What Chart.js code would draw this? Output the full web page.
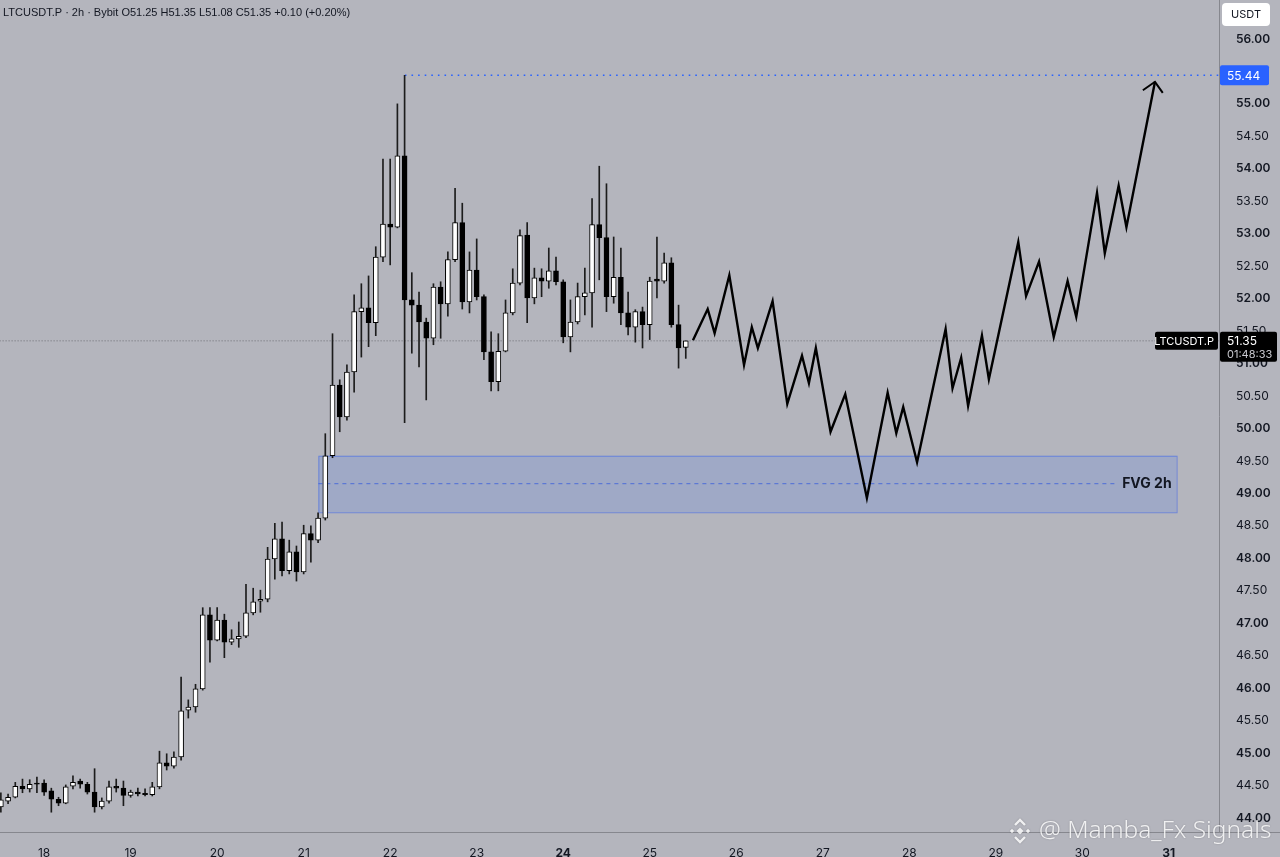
<!DOCTYPE html>
<html>
<head>
<meta charset="utf-8">
<title>LTCUSDT.P 2h</title>
<script src="https://cdn.jsdelivr.net/npm/chart.js@4.4.1/dist/chart.umd.min.js"></script>
<style>
  html, body { margin: 0; padding: 0; background: #b4b5bd; }
  #wrap { width: 1280px; height: 857px; position: relative; }
</style>
</head>
<body>
<div id="wrap"><canvas id="chart"></canvas></div>
<script>
// 2h candles, first one at 17.5 (day of month as a number)
const firstCandle = 17.5;
const stepDays = 2 / 24;

const opens = [44.17, 44.26, 44.32, 44.49, 44.45, 44.54, 44.54, 44.42, 44.29, 44.23, 44.49, 44.57, 44.52, 44.40, 44.17, 44.26, 44.49, 44.46, 44.35, 44.40, 44.38, 44.36, 44.48, 44.85, 44.80,
  44.94, 45.66, 45.71, 45.99, 47.13, 46.74, 47.05, 46.71, 46.76, 46.80, 47.16, 47.34, 47.37, 47.99, 48.30, 47.81, 48.10, 47.79, 48.38, 48.28, 48.62,
  49.58, 50.67, 50.18, 50.87, 51.80, 51.86, 51.63, 52.64, 53.15, 53.10, 54.20, 51.98, 51.90, 51.64, 51.39, 52.18, 51.92, 52.60, 53.17, 51.95, 52.44, 52.03, 51.18, 50.72,
  51.19, 51.78, 52.24, 52.98, 52.01, 52.32, 52.27, 52.43, 52.26, 51.41, 51.64, 52.03, 52.09, 53.14, 52.94, 52.03, 52.33, 51.78, 51.56, 51.80, 51.60, 52.30, 52.27, 52.55, 51.60, 51.25];
const highs = [44.39, 44.37, 44.55, 44.60, 44.59, 44.63, 44.59, 44.46, 44.32, 44.51, 44.65, 44.60, 44.55, 44.76, 44.31, 44.57, 44.60, 44.57, 44.43, 44.46, 44.45, 44.55, 45.03, 44.99, 45.02,
  46.17, 45.82, 46.06, 47.24, 47.24, 47.24, 47.14, 46.90, 47.02, 47.60, 47.54, 47.51, 48.17, 48.54, 48.56, 48.28, 48.19, 48.51, 48.50, 48.70, 49.92,
  51.46, 50.75, 50.98, 52.06, 52.23, 52.35, 52.80, 54.15, 54.15, 55.00, 55.44, 52.40, 52.10, 51.70, 52.23, 52.26, 52.72, 53.70, 53.47, 52.72, 52.92, 52.06, 51.49, 51.46,
  51.98, 52.46, 53.06, 53.17, 52.47, 52.46, 52.78, 52.64, 52.29, 51.98, 52.24, 52.47, 53.54, 54.04, 53.77, 52.95, 52.78, 52.10, 51.83, 51.87, 52.33, 52.95, 52.70, 52.63, 51.90, 51.35];
const lows = [44.09, 44.22, 44.31, 44.39, 44.40, 44.39, 44.35, 44.09, 44.19, 44.22, 44.45, 44.46, 44.37, 44.09, 44.14, 44.23, 44.40, 44.19, 44.32, 44.34, 44.34, 44.34, 44.45, 44.74, 44.77,
  44.89, 45.54, 45.63, 45.97, 46.40, 46.73, 46.47, 46.67, 46.63, 46.78, 47.13, 47.17, 47.33, 47.68, 47.73, 47.76, 47.65, 47.76, 47.94, 48.24, 48.59,
  49.55, 49.95, 50.13, 50.56, 51.10, 51.26, 51.43, 52.57, 52.52, 53.09, 50.09, 51.16, 50.95, 50.44, 51.29, 51.39, 51.73, 52.57, 51.84, 51.78, 51.98, 51.06, 50.58, 50.58,
  51.18, 51.75, 52.21, 51.63, 51.92, 52.03, 52.16, 52.21, 51.32, 51.18, 51.61, 51.75, 51.56, 52.29, 51.80, 51.93, 51.60, 51.44, 51.33, 51.24, 51.37, 52.01, 52.24, 51.56, 50.93, 51.08];
const closes = [44.28, 44.32, 44.49, 44.45, 44.52, 44.52, 44.40, 44.29, 44.23, 44.48, 44.55, 44.52, 44.40, 44.17, 44.26, 44.48, 44.46, 44.35, 44.40, 44.37, 44.36, 44.48, 44.85, 44.80, 44.94,
  45.65, 45.71, 45.99, 47.13, 46.74, 47.05, 46.71, 46.76, 46.80, 47.16, 47.33, 47.37, 47.99, 48.30, 47.81, 48.10, 47.79, 48.38, 48.28, 48.62, 49.58,
  50.67, 50.18, 50.87, 51.80, 51.86, 51.63, 52.64, 53.15, 53.10, 54.20, 51.98, 51.90, 51.64, 51.39, 52.18, 51.92, 52.60, 53.17, 51.95, 52.44, 52.03, 51.18, 50.72, 51.19,
  51.78, 52.24, 52.97, 52.01, 52.32, 52.27, 52.43, 52.26, 51.41, 51.64, 52.03, 52.09, 53.14, 52.94, 52.03, 52.33, 51.78, 51.56, 51.80, 51.60, 52.27, 52.27, 52.55, 51.60, 51.24, 51.35];

// hand drawn projection
const pathTimes = [25.50, 25.67, 25.75, 25.92, 26.09, 26.18, 26.25, 26.42, 26.59, 26.76, 26.84, 26.92, 27.09, 27.26, 27.51, 27.75, 27.85, 27.93,
  28.09, 28.42, 28.50, 28.60, 28.68, 28.84, 28.92, 29.26, 29.35, 29.50, 29.67, 29.83, 29.93, 30.17, 30.26, 30.42, 30.51, 30.84];
const pathPrices = [51.36, 51.84, 51.47, 52.36, 50.98, 51.56, 51.24, 51.96, 50.38, 51.12, 50.70, 51.24, 49.95, 50.53, 48.93, 50.55, 49.93, 50.33,
  49.48, 51.53, 50.62, 51.09, 50.35, 51.43, 50.76, 52.87, 52.04, 52.57, 51.41, 52.27, 51.72, 53.63, 52.70, 53.74, 53.10, 55.34];
const arrowTimes = [30.70, 30.84, 30.93];
const arrowPrices = [55.21, 55.34, 55.17];

// levels
const targetPrice = 55.44;
const targetFrom = 22.17;
const lastPrice = 51.35;
const fvgTop = 49.58;
const fvgBottom = 48.71;
const fvgMid = 49.15;
const fvgFrom = 21.17;
const fvgTo = 31.09;
const fvgMidTo = 30.38;

const dayTicks = [18, 19, 20, 21, 22, 23, 24, 25, 26, 27, 28, 29, 30, 31];
const boldDays = [24, 31];
const priceTicks = [44, 44.5, 45, 45.5, 46, 46.5, 47, 47.5, 48, 48.5, 49, 49.5, 50, 50.5, 51, 51.5, 52, 52.5, 53, 53.5, 54, 54.5, 55, 55.5, 56];

const headerText = "LTCUSDT.P · 2h · Bybit O51.25 H51.35 L51.08 C51.35 +0.10 (+0.20%)";
const countdown = "01:48:33";

const BG = "#b4b5bd";
const AXIS = "#86878e";
const TEXT = "#131722";
const FONT = "Inter, 'Liberation Sans', sans-serif";

const times = opens.map((_, i) => firstCandle + i * stepDays);
const isUp = i => closes[i] >= opens[i];

// ---- plugins ----
const bgPlugin = {
  id: "bg",
  beforeDraw(chart) {
    const c = chart.ctx;
    c.save();
    c.fillStyle = BG;
    c.fillRect(0, 0, chart.width, chart.height);
    c.restore();
  }
};

const fvgPlugin = {
  id: "fvg",
  beforeDatasetsDraw(chart) {
    const { ctx, scales: { x, y } } = chart;
    const x0 = x.getPixelForValue(fvgFrom), x1 = x.getPixelForValue(fvgTo);
    const y0 = y.getPixelForValue(fvgTop), y1 = y.getPixelForValue(fvgBottom);
    ctx.save();
    ctx.fillStyle = "rgba(41,98,255,0.15)";
    ctx.fillRect(x0, y0, x1 - x0, y1 - y0);
    ctx.strokeStyle = "rgba(60,100,235,0.55)";
    ctx.lineWidth = 1;
    ctx.strokeRect(x0 + 0.5, y0 + 0.5, x1 - x0, y1 - y0);
    ctx.fillStyle = TEXT;
    ctx.font = "bold 14px " + FONT;
    ctx.textAlign = "right";
    ctx.textBaseline = "middle";
    ctx.fillText("FVG 2h", x1 - 5, y.getPixelForValue(fvgMid));
    ctx.restore();
  }
};

function roundRect(c, x, y, w, h, r) {
  c.beginPath();
  c.moveTo(x + r, y);
  c.arcTo(x + w, y, x + w, y + h, r);
  c.arcTo(x + w, y + h, x, y + h, r);
  c.arcTo(x, y + h, x, y, r);
  c.arcTo(x, y, x + w, y, r);
  c.closePath();
}

const overlayPlugin = {
  id: "overlay",
  afterDraw(chart) {
    const { ctx, chartArea, scales: { y } } = chart;
    const ax = chartArea.right;
    ctx.save();

    // bottom axis line runs under the price scale too
    ctx.strokeStyle = AXIS;
    ctx.lineWidth = 1;
    ctx.beginPath();
    ctx.moveTo(ax, chartArea.bottom + 0.5);
    ctx.lineTo(chart.width, chartArea.bottom + 0.5);
    ctx.stroke();

    // header
    ctx.fillStyle = TEXT;
    ctx.font = "11px 'Liberation Sans', Arial, sans-serif";
    ctx.textAlign = "left";
    ctx.textBaseline = "middle";
    ctx.fillText(headerText, 3, 13);

    // currency box
    ctx.fillStyle = "#ffffff";
    roundRect(ctx, ax + 3, 3, 48, 23, 4);
    ctx.fill();
    ctx.fillStyle = TEXT;
    ctx.font = "11px " + FONT;
    ctx.textAlign = "center";
    ctx.fillText("USDT", ax + 27, 15);

    // target label
    const ty = y.getPixelForValue(targetPrice);
    ctx.fillStyle = "#2962ff";
    roundRect(ctx, ax + 1, ty - 10, 49, 20, 2);
    ctx.fill();
    ctx.fillStyle = "#ffffff";
    ctx.font = "12px " + FONT;
    ctx.textAlign = "left";
    ctx.fillText(targetPrice.toFixed(2), ax + 8, ty + 1);

    // last price label
    const py = y.getPixelForValue(lastPrice);
    ctx.fillStyle = "#000000";
    roundRect(ctx, ax + 1, py - 9, 57, 30, 2);
    ctx.fill();
    ctx.fillStyle = "#ffffff";
    ctx.font = "12px " + FONT;
    ctx.fillText(lastPrice.toFixed(2), ax + 8, py + 1);
    ctx.fillStyle = "#c9c9cf";
    ctx.font = "11px " + FONT;
    ctx.fillText(countdown, ax + 8, py + 14);

    ctx.fillStyle = "#000000";
    roundRect(ctx, ax - 64, py - 9, 63, 18, 2);
    ctx.fill();
    ctx.fillStyle = "#ffffff";
    ctx.font = "11px " + FONT;
    ctx.textAlign = "right";
    ctx.fillText("LTCUSDT.P", ax - 5, py + 0.5);

    // watermark
    const lx = 1020, ly = 831;
    ctx.fillStyle = "rgba(255,255,255,0.85)";
    ctx.shadowColor = "rgba(0,0,0,0.25)";
    ctx.shadowBlur = 2;
    const dot = (cx, cy, s) => {
      ctx.beginPath();
      ctx.moveTo(cx, cy - s); ctx.lineTo(cx + s, cy); ctx.lineTo(cx, cy + s); ctx.lineTo(cx - s, cy);
      ctx.closePath();
      ctx.fill();
    };
    dot(lx, ly, 3.5);
    dot(lx - 8, ly, 2.2);
    dot(lx + 8, ly, 2.2);
    ctx.lineWidth = 2.4;
    ctx.strokeStyle = "rgba(255,255,255,0.85)";
    ctx.beginPath();
    ctx.moveTo(lx - 5, ly - 6); ctx.lineTo(lx, ly - 11); ctx.lineTo(lx + 5, ly - 6);
    ctx.moveTo(lx - 5, ly + 6); ctx.lineTo(lx, ly + 11); ctx.lineTo(lx + 5, ly + 6);
    ctx.stroke();
    ctx.font = "300 24.5px 'Noto Sans', " + FONT;
    ctx.textAlign = "left";
    ctx.textBaseline = "middle";
    ctx.fillText("@ Mamba_Fx Signals", 1039, 831);
    ctx.restore();
  }
};

// ---- chart ----
const hline = (from, to, price) => [{ x: from, y: price }, { x: to, y: price }];

new Chart(document.getElementById("chart"), {
  type: "bar",
  data: {
    datasets: [
      {
        label: "wicks",
        data: times.map((t, i) => ({ x: t, y: [lows[i], highs[i]] })),
        backgroundColor: "#1c1c1c",
        borderWidth: 0,
        barThickness: 1,
        grouped: false,
        order: 3
      },
      {
        label: "bodies",
        data: times.map((t, i) => ({ x: t, y: [opens[i], closes[i]] })),
        backgroundColor: ctx => isUp(ctx.dataIndex) ? "#ffffff" : "#000000",
        borderColor: "#000000",
        borderWidth: 1,
        borderSkipped: false,
        barThickness: 5,
        grouped: false,
        order: 2
      },
      {
        type: "line",
        label: "last price",
        data: hline(17, 32, lastPrice),
        borderColor: "#6c6d74",
        borderWidth: 1,
        borderDash: [1, 2],
        pointRadius: 0,
        order: 4
      },
      {
        type: "line",
        label: "target",
        data: hline(targetFrom, 32, targetPrice),
        borderColor: "#2962ff",
        borderWidth: 1.6,
        borderDash: [1.6, 5],
        pointRadius: 0,
        order: 4
      },
      {
        type: "line",
        label: "fvg mid",
        data: hline(fvgFrom, fvgMidTo, fvgMid),
        borderColor: "rgba(50,90,220,0.75)",
        borderWidth: 1,
        borderDash: [4, 4],
        pointRadius: 0,
        order: 4
      },
      {
        type: "line",
        label: "projection",
        data: pathTimes.map((t, i) => ({ x: t, y: pathPrices[i] })),
        borderColor: "#000000",
        borderWidth: 2.4,
        pointRadius: 0,
        tension: 0,
        order: 1
      },
      {
        type: "line",
        label: "arrow",
        data: arrowTimes.map((t, i) => ({ x: t, y: arrowPrices[i] })),
        borderColor: "#000000",
        borderWidth: 2,
        pointRadius: 0,
        tension: 0,
        order: 1
      }
    ]
  },
  options: {
    responsive: true,
    maintainAspectRatio: false,
    animation: false,
    events: [],
    layout: { padding: 0 },
    plugins: { legend: { display: false }, tooltip: { enabled: false } },
    scales: {
      x: {
        type: "linear",
        min: 17.49,
        max: 31.58,
        offset: false,
        afterBuildTicks: s => { s.ticks = dayTicks.map(v => ({ value: v })); },
        afterFit: s => { s.height = 25; s.paddingLeft = 0; s.paddingRight = 0; },
        grid: { display: false },
        border: { display: true, color: AXIS },
        ticks: {
          autoSkip: false,
          maxRotation: 0,
          padding: 6,
          color: TEXT,
          font: c => ({ family: FONT, size: 12, weight: boldDays.includes(c.tick && c.tick.value) ? "bold" : "normal" }),
          callback: v => String(v)
        }
      },
      y: {
        type: "linear",
        position: "right",
        min: 43.785,
        max: 56.6,
        afterBuildTicks: s => { s.ticks = priceTicks.map(v => ({ value: v })); },
        afterFit: s => { s.width = 61; s.paddingTop = 0; s.paddingBottom = 0; },
        grid: { display: false },
        border: { display: true, color: AXIS },
        ticks: {
          padding: 9,
          color: TEXT,
          font: c => ({ family: FONT, size: 12, weight: c.tick && Number.isInteger(c.tick.value) ? "600" : "normal" }),
          callback: v => Number(v).toFixed(2)
        }
      }
    }
  },
  plugins: [bgPlugin, fvgPlugin, overlayPlugin]
});
</script>
</body>
</html>
